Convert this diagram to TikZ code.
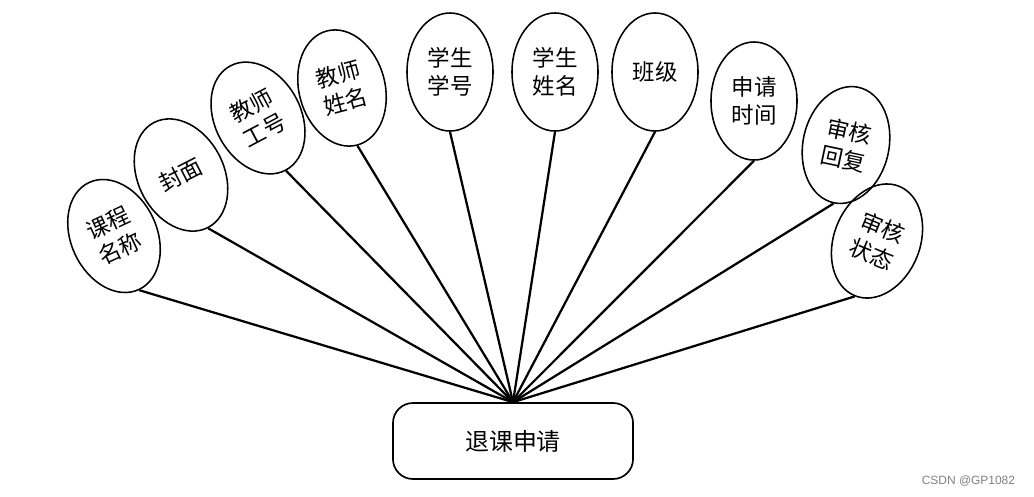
\documentclass[tikz,border=0pt]{standalone}
\usepackage{fontspec}
\setmainfont{Noto Sans CJK SC}
\newfontfamily\wmfont{Liberation Sans}
\usetikzlibrary{shapes.geometric,
                positioning
                }

\tikzset{
    attr/.style={draw, ellipse, line width=1.1pt, minimum width=2.15cm, minimum height=2.95cm,
                 inner sep=0pt, align=center, font=\fontsize{16}{20}\selectfont},
    entity/.style={draw, rounded corners=0.5cm, line width=1.2pt, minimum width=6cm,
                   minimum height=1.9cm, font=\fontsize{17}{20}\selectfont},
    link/.style={line width=1.6pt}
}

\begin{document}
\begin{tikzpicture}[x=0.025cm, y=-0.025cm]
    \useasboundingbox (0,0) rectangle (1034,496);

    %entity
    \node[entity] (tk) at (513,441) {退课申请};

    %attributes
    \foreach \n/\x/\y/\a/\t in {1/114/236/25/{课程\\名称},
                                2/181/175/27/{封面},
                                3/258/118/28/{教师\\工号},
                                4/342/88/15/{教师\\姓名},
                                5/450/72/0/{学生\\学号},
                                6/555/72/0/{学生\\姓名},
                                7/655/72/0/{班级},
                                8/754/101/0/{申请\\时间},
                                9/846/145/-12/{审核\\回复},
                                10/877/241/-22/{审核\\状态}}
        \node[attr, rotate=\a] (a\n) at (\x,\y) {\t};

    %connectors
    \foreach \n in {1,...,10}
        \draw[link] (tk.north) -- (a\n.south);

    %watermark
    \node[text=gray, font=\wmfont\fontsize{8.5}{10}\selectfont, anchor=east] (wm) at (1020,481) {CSDN @GP1082};
\end{tikzpicture}
\end{document}
